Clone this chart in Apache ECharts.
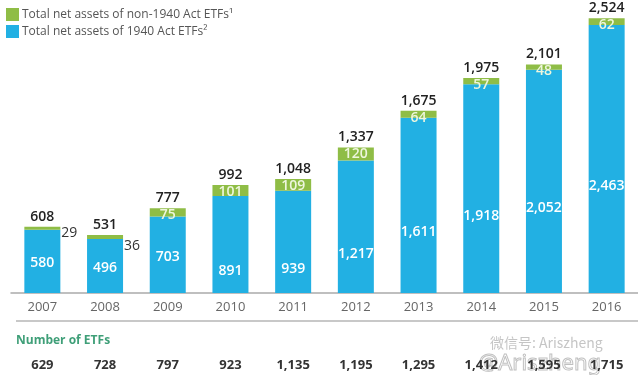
<!DOCTYPE html>
<html>
<head>
<meta charset="utf-8">
<script src="https://cdn.jsdelivr.net/npm/echarts@6/dist/echarts.min.js"></script>
<style>html,body{margin:0;padding:0;background:#fff;}#c{width:638px;height:375px;}</style>
</head>
<body>
<div id="c"></div>
<script>
var years = ['2007','2008','2009','2010','2011','2012','2013','2014','2015','2016'];
var act1940 = [580, 496, 703, 891, 939, 1217, 1611, 1918, 2052, 2463];
var non1940 = [29, 36, 75, 101, 109, 120, 64, 57, 48, 62];
var totals = [608, 531, 777, 992, 1048, 1337, 1675, 1975, 2101, 2524];
var etfCounts = ['629','728','797','923','1,135','1,195','1,295','1,412','1,595','1,715'];

var BLUE = '#22b0e3', GREEN = '#8fbd46';
var FONT = '"Open Sans", "Noto Sans", sans-serif';
var outsideGreen = [0, 1];

function fmt(v){ return v.toLocaleString('en-US'); }

var blueData = act1940.map(function(v){
  return { value: v, label: { offset: [0, v < 800 ? 2 : 27] } };
});

var greenData = non1940.map(function(v, i){
  if (outsideGreen.indexOf(i) >= 0) {
    return { value: v, label: { position: 'right', distance: 1, offset: [0, 5 + i*4], color: '#333', fontWeight: 'normal', fontSize: 14 } };
  }
  return v;
});

var chart = echarts.init(document.getElementById('c'), null, {renderer: 'canvas'});
chart.setOption({
  animation: false,
  textStyle: { fontFamily: FONT },
  legend: {
    data: ['Total net assets of non-1940 Act ETFs¹', 'Total net assets of 1940 Act ETFs²'],
    orient: 'vertical', left: 1, top: 3,
    itemWidth: 13, itemHeight: 13, itemGap: 4,
    icon: 'rect',
    textStyle: { fontFamily: FONT, fontSize: 12, color: '#555', padding: [0,0,0,-2] }
  },
  grid: { left: 11, right: 0, top: 10, bottom: 82 },
  xAxis: [{
    type: 'category', data: years,
    axisLine: { lineStyle: { color: '#aaa', width: 1.5 } },
    axisTick: { show: false },
    axisLabel: { color: '#666', fontSize: 13, margin: 8, fontFamily: FONT }
  }, {
    type: 'category', data: etfCounts, position: 'bottom', offset: 61,
    axisLine: { show: false }, axisTick: { show: false },
    axisLabel: { color: '#333', fontSize: 13, fontWeight: 'bold', margin: 5, fontFamily: FONT }
  }],
  yAxis: { type: 'value', min: 0, max: 2600, show: false, splitLine: { show: false } },
  series: [{
    name: 'Total net assets of 1940 Act ETFs²', type: 'bar', stack: 'a', data: blueData,
    barWidth: 36, itemStyle: { color: BLUE },
    label: { show: true, position: 'inside', color: '#fff', fontSize: 14, fontWeight: 600,
      formatter: function(p){ return fmt(p.value); } }
  }, {
    name: 'Total net assets of non-1940 Act ETFs¹', type: 'bar', stack: 'a', data: greenData,
    barWidth: 36, itemStyle: { color: GREEN },
    label: { show: true, position: 'insideTop', distance: 0, color: '#eef6dd', fontSize: 14, fontWeight: 600,
      formatter: function(p){ return fmt(p.value); } }
  }, {
    name: 'total', type: 'bar', stack: 'a', data: totals.map(function(){ return 0; }),
    barWidth: 36, itemStyle: { color: 'transparent' },
    label: { show: true, position: 'top', distance: 3, color: '#222', fontSize: 14, fontWeight: 600,
      formatter: function(p){ return fmt(totals[p.dataIndex]); } }
  }],
  graphic: [
    { type: 'line', shape: { x1: 16, y1: 321, x2: 638, y2: 321 }, style: { stroke: '#c8c8c8', lineWidth: 2 } },
    { type: 'text', left: 16, top: 335, style: { text: 'Number of ETFs', fill: '#3f9f78', font: 'bold 12px ' + FONT } },
    { type: 'text', left: 490, top: 336, style: { text: '微信号: Ariszheng', fill: 'rgba(150,150,150,0.55)', font: '14px "Noto Sans CJK SC", sans-serif' } },
    { type: 'text', left: 478, top: 352, style: { text: '@Ariszheng', fill: 'rgba(255,255,255,0)', stroke: 'rgba(150,150,150,0.6)', lineWidth: 1, font: '22px "Noto Sans", sans-serif' } }
  ]
});
</script>
</body>
</html>
